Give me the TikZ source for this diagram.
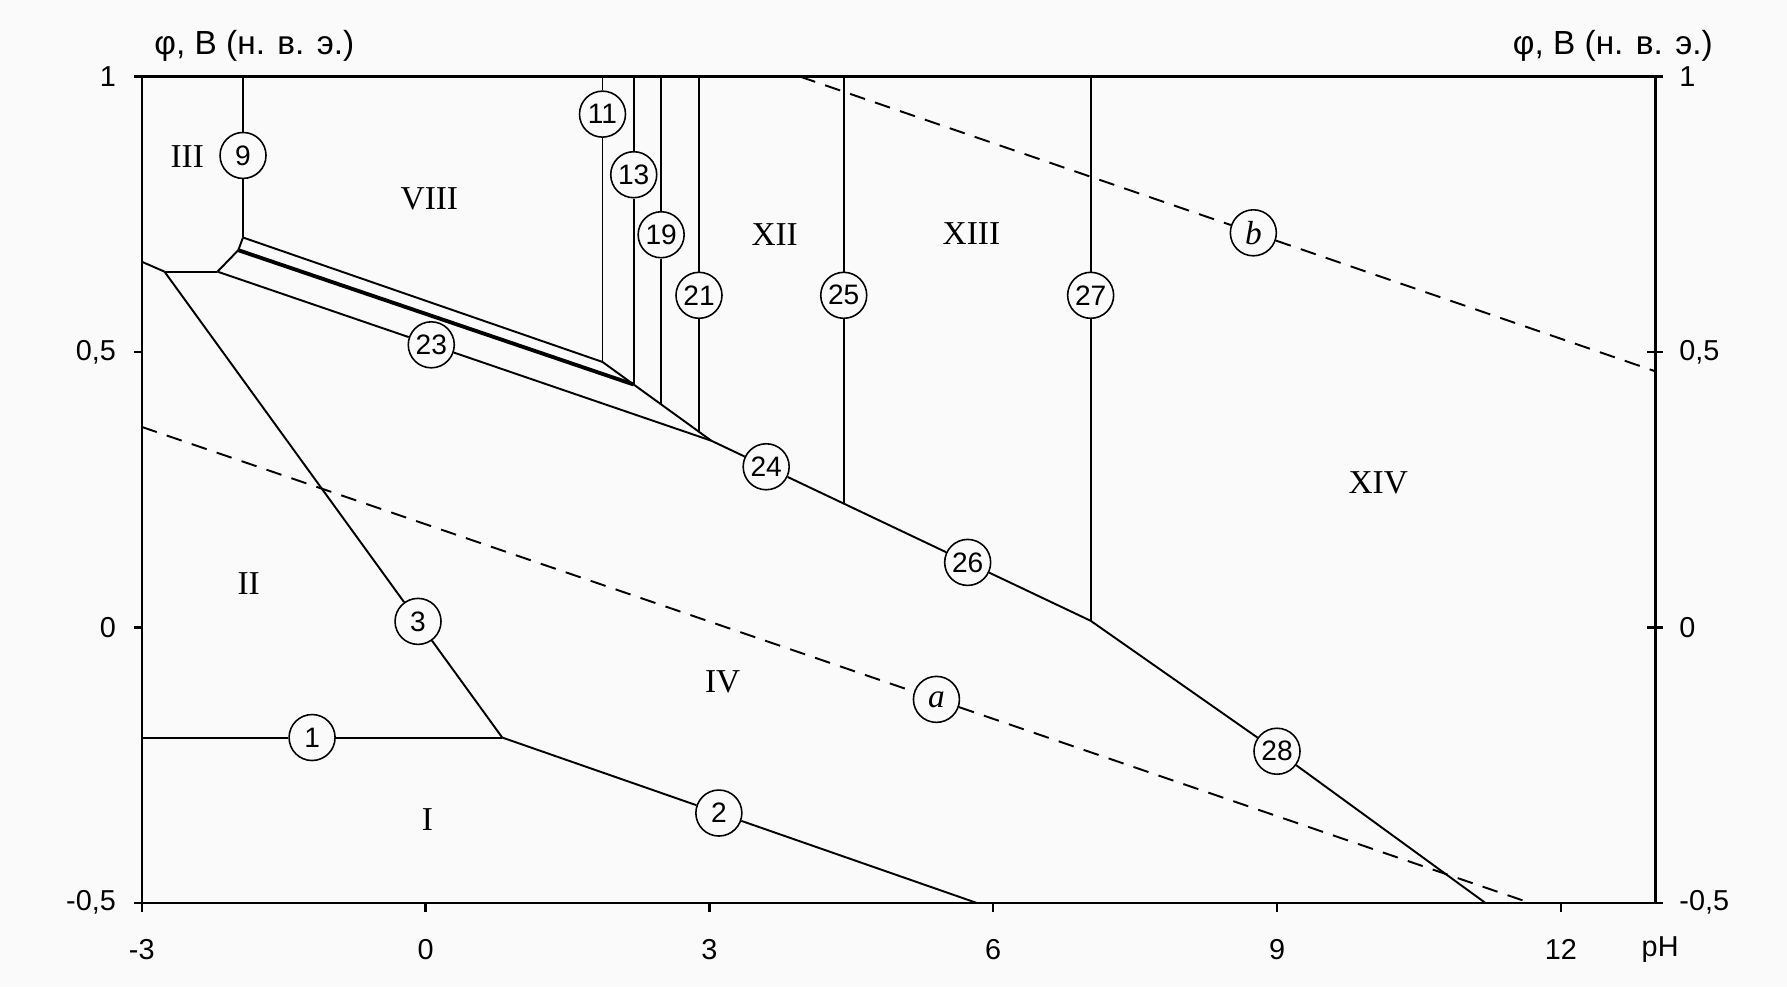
\documentclass[tikz,border=0pt]{standalone}
\usepackage{fontspec}
\setmainfont{Liberation Sans}
\newfontfamily\romanfont{Liberation Serif}
\definecolor{paper}{gray}{0.98}
\begin{document}
\begin{tikzpicture}[
    x = 0.946cm, y = 5.507cm,
    line width = 0.55pt,
    num/.style = {shape = circle, draw = black, fill = paper, line width = 0.45pt,
                  inner sep = 0pt, minimum size = 0.46cm, font = \fontsize{8}{8}\selectfont},
    letter/.style = {num, font = \fontsize{9.5}{9.5}\selectfont\romanfont\itshape},
    region/.style = {font = \fontsize{9.5}{9.5}\selectfont\romanfont},
    water/.style = {dash pattern = on 4.5pt off 3pt},
    axis text/.style = {font = \fontsize{8.2}{8.2}\selectfont},
    title text/.style = {font = \fontsize{9.5}{9.5}\selectfont},
  ]
        \fill[paper] (-4.499, -0.653) rectangle (14.391, 1.1393);
        \useasboundingbox (-4.499, -0.653) rectangle (14.391, 1.1393);

        % ------------------------------------------------------------------------
        % Axes
        \draw[line width = 0.7pt] (-3, -0.5) rectangle (13, 1);
        \foreach \v/\t in {-0.5/{-0,5}, 0/0, 0.5/{0,5}, 1/1} {
          \draw[line width = 0.7pt] (-3, \v) -- ++(-0.08cm, 0);
          \draw[line width = 0.7pt] (13, \v) ++(-0.08cm, 0) -- ++(0.16cm, 0);
          \node[axis text, anchor = east] at (-3.14, \v) {\t};
          \node[axis text, anchor = west] at (13.12, \v) {\t};
        }
        \foreach \x in {-3, 0, 3, 6, 9, 12} {
          \draw[line width = 0.7pt] (\x, -0.5) -- ++(0, -0.09cm);
          \node[axis text] at (\x, -0.585) {\x};
        }
        \node[axis text] at (13.05, -0.585) {pH};
        \node[title text] at (-1.81, 1.056) {φ, В (н. в. э.)};
        \node[title text] at (12.55, 1.056) {φ, В (н. в. э.)};

        % ------------------------------------------------------------------------
        % Left corner
        \coordinate (a0) at (-3, 0.664);
        \coordinate (b0) at (-2.76, 0.646);
        \coordinate (c0) at (-2.2, 0.646);
        \coordinate (d0) at (-1.98, 0.685);
        \coordinate (e0) at (-1.93, 0.708);
        \coordinate (t9) at (-1.93, 1);
        \node[num] at (-1.93, 0.857) (n9) {9};

        \coordinate (l1) at (-3, -0.2);
        \coordinate (p1) at (0.81, -0.2);
        \coordinate (q2) at (5.82, -0.5);
        \node[num] at (-1.2, -0.2) (n1) {1};
        \node[num] at (3.1, -0.3371) (n2) {2};
        \node[num] at (-0.08, 0.0109) (n3) {3};

        \draw
          (a0) edge (b0)
          (b0) edge (c0)
          (c0) edge (d0)
          (d0) edge (e0)
          (t9) edge (n9)
          (n9) edge (e0)
          (b0) edge (n3)
          (n3) edge (p1)
          (l1) edge (n1)
          (n1) edge (p1)
          (p1) edge (n2)
          (n2) edge (q2)
        ;

        % ------------------------------------------------------------------------
        % Vertical lines
        \coordinate (t11) at (1.87, 1);
        \coordinate (u11) at (1.87, 0.482);
        \node[num] at (1.87, 0.932) (n11) {11};

        \coordinate (t13) at (2.2, 1);
        \coordinate (k13) at (2.2, 0.441);
        \node[num] at (2.2, 0.822) (n13) {13};

        \coordinate (t19) at (2.49, 1);
        \coordinate (s19) at (2.49, 0.405);
        \node[num] at (2.49, 0.713) (n19) {19};

        \coordinate (t21) at (2.89, 1);
        \coordinate (s21) at (2.89, 0.355);
        \node[num] at (2.89, 0.603) (n21) {21};

        \coordinate (t25) at (4.42, 1);
        \coordinate (s25) at (4.42, 0.225);
        \node[num] at (4.42, 0.603) (n25) {25};

        \coordinate (t27) at (7.03, 1);
        \coordinate (s27) at (7.03, 0.012);
        \node[num] at (7.03, 0.603) (n27) {27};

        \draw
          (t11) edge (n11)
          (n11) edge (u11)
          (t13) edge (n13)
          (n13) edge (k13)
          (t19) edge (n19)
          (n19) edge (s19)
          (t21) edge (n21)
          (n21) edge (s21)
          (t25) edge (n25)
          (n25) edge (s25)
          (t27) edge (n27)
          (n27) edge (s27)
        ;

        % ------------------------------------------------------------------------
        % Sloping lines
        \coordinate (m0) at (3.02, 0.339);
        \coordinate (q28) at (11.2, -0.5);
        \node[num] at (0.06, 0.5131) (n23) {23};
        \node[num] at (3.6, 0.2917) (n24) {24};
        \node[num] at (5.73, 0.118) (n26) {26};
        \node[num] at (9.0, -0.2249) (n28) {28};

        \draw
          (e0) edge (u11)
          (u11) edge (k13)
          (k13) edge (m0)
          (c0) edge (n23)
          (n23) edge (m0)
          (m0) edge (n24)
          (n24) edge (n26)
          (n26) edge (s27)
          (s27) edge (n28)
          (n28) edge (q28)
        ;
        \draw[line width = 1.1pt] (d0) -- (k13);

        % ------------------------------------------------------------------------
        % Water lines
        \coordinate (wa1) at (-3, 0.364);
        \coordinate (wa2) at (11.67, -0.5);
        \node[letter] at (5.40, -0.1307) (na) {a};

        \coordinate (wb1) at (3.96, 1);
        \coordinate (wb2) at (13, 0.465);
        \node[letter] at (8.75, 0.7165) (nb) {b};

        \draw[water]
          (wa1) edge (na)
          (na) edge (wa2)
          (wb1) edge (nb)
          (nb) edge (wb2)
        ;

        % ------------------------------------------------------------------------
        % Regions
        \node[region] at (-2.52, 0.855) (r3) {III};
        \node[region] at (0.04, 0.778) (r8) {VIII};
        \node[region] at (3.69, 0.713) (r12) {XII};
        \node[region] at (5.77, 0.715) (r13) {XIII};
        \node[region] at (10.07, 0.262) (r14) {XIV};
        \node[region] at (-1.87, 0.08) (r2) {II};
        \node[region] at (3.14, -0.098) (r4) {IV};
        \node[region] at (0.02, -0.349) (r1) {I};
      \end{tikzpicture}
\end{document}
